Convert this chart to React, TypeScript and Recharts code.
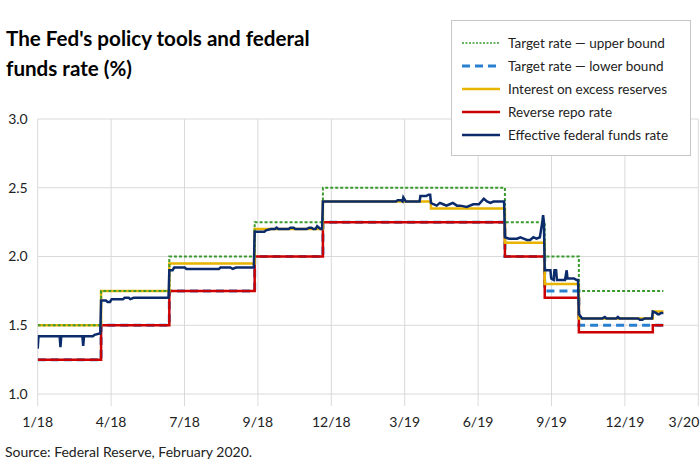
import React from "react";
import { LineChart, Line, XAxis, YAxis, CartesianGrid } from "recharts";

type Pt = [string, number];

const xTickLabels = ["1/18", "4/18", "7/18", "9/18", "12/18", "3/19", "6/19", "9/19", "12/19", "3/20"];
const yTicks = [1.0, 1.5, 2.0, 2.5, 3.0];

// policy rates: value in force from each date on
const upperBound: Pt[] = [
  ["2018-01-03", 1.5], ["2018-03-22", 1.75], ["2018-06-14", 2.0], ["2018-09-27", 2.25],
  ["2018-12-20", 2.5], ["2019-08-01", 2.25], ["2019-09-19", 2.0], ["2019-10-31", 1.75],
  ["2020-02-12", 1.75],
];
const lowerBound: Pt[] = [
  ["2018-01-03", 1.25], ["2018-03-22", 1.5], ["2018-06-14", 1.75], ["2018-09-27", 2.0],
  ["2018-12-20", 2.25], ["2019-08-01", 2.0], ["2019-09-19", 1.75], ["2019-10-31", 1.5],
  ["2020-02-12", 1.5],
];
const ioer: Pt[] = [
  ["2018-01-03", 1.5], ["2018-03-22", 1.75], ["2018-06-14", 1.95], ["2018-09-27", 2.2],
  ["2018-12-20", 2.4], ["2019-05-02", 2.35], ["2019-08-01", 2.1], ["2019-09-19", 1.8],
  ["2019-10-31", 1.55], ["2020-01-30", 1.6], ["2020-02-12", 1.6],
];
const rrp: Pt[] = [
  ["2018-01-03", 1.25], ["2018-03-22", 1.5], ["2018-06-14", 1.75], ["2018-09-27", 2.0],
  ["2018-12-20", 2.25], ["2019-08-01", 2.0], ["2019-09-19", 1.7], ["2019-10-31", 1.45],
  ["2020-01-30", 1.5], ["2020-02-12", 1.5],
];
const effr: Pt[] = [
  ["2018-01-03", 1.33], ["2018-01-04", 1.42], ["2018-01-30", 1.42], ["2018-01-31", 1.34],
  ["2018-02-01", 1.42], ["2018-02-27", 1.42], ["2018-02-28", 1.35], ["2018-03-01", 1.42],
  ["2018-03-12", 1.42], ["2018-03-14", 1.43], ["2018-03-20", 1.44], ["2018-03-21", 1.44],
  ["2018-03-22", 1.68], ["2018-03-28", 1.68], ["2018-03-30", 1.67], ["2018-04-02", 1.67],
  ["2018-04-04", 1.69], ["2018-04-18", 1.69], ["2018-04-20", 1.7], ["2018-04-25", 1.7],
  ["2018-04-27", 1.69], ["2018-05-01", 1.7], ["2018-06-13", 1.7], ["2018-06-14", 1.9],
  ["2018-06-18", 1.9], ["2018-06-20", 1.92], ["2018-07-03", 1.92], ["2018-07-05", 1.91],
  ["2018-08-14", 1.91], ["2018-08-16", 1.92], ["2018-08-28", 1.92], ["2018-08-31", 1.91],
  ["2018-09-04", 1.92], ["2018-09-26", 1.92], ["2018-09-27", 2.18], ["2018-10-09", 2.18],
  ["2018-10-11", 2.19], ["2018-10-17", 2.2], ["2018-10-22", 2.2], ["2018-10-24", 2.21],
  ["2018-10-26", 2.2], ["2018-11-08", 2.2], ["2018-11-10", 2.21], ["2018-11-14", 2.21],
  ["2018-11-16", 2.2], ["2018-11-30", 2.2], ["2018-12-03", 2.21], ["2018-12-06", 2.21],
  ["2018-12-08", 2.2], ["2018-12-11", 2.2], ["2018-12-13", 2.22], ["2018-12-17", 2.2],
  ["2018-12-19", 2.2], ["2018-12-20", 2.4], ["2019-03-20", 2.4], ["2019-03-22", 2.41],
  ["2019-03-26", 2.41], ["2019-03-28", 2.4], ["2019-03-29", 2.43], ["2019-04-01", 2.4],
  ["2019-04-18", 2.4], ["2019-04-19", 2.44], ["2019-04-26", 2.44], ["2019-04-29", 2.45],
  ["2019-05-01", 2.45], ["2019-05-02", 2.39], ["2019-05-05", 2.38], ["2019-05-09", 2.37],
  ["2019-05-13", 2.39], ["2019-05-17", 2.38], ["2019-05-21", 2.37], ["2019-05-25", 2.38],
  ["2019-05-29", 2.39], ["2019-06-03", 2.37], ["2019-06-07", 2.37], ["2019-06-15", 2.36],
  ["2019-06-23", 2.38], ["2019-06-30", 2.38], ["2019-07-06", 2.42], ["2019-07-10", 2.4],
  ["2019-07-14", 2.39], ["2019-07-18", 2.4], ["2019-07-31", 2.4], ["2019-08-01", 2.14],
  ["2019-08-06", 2.13], ["2019-08-16", 2.13], ["2019-08-20", 2.14], ["2019-08-24", 2.13],
  ["2019-08-28", 2.12], ["2019-09-01", 2.12], ["2019-09-05", 2.14], ["2019-09-09", 2.13],
  ["2019-09-13", 2.14], ["2019-09-16", 2.25], ["2019-09-17", 2.3], ["2019-09-18", 2.25],
  ["2019-09-19", 1.9], ["2019-09-26", 1.9], ["2019-09-27", 1.84], ["2019-09-30", 1.83],
  ["2019-10-01", 1.9], ["2019-10-03", 1.9], ["2019-10-04", 1.83], ["2019-10-14", 1.83],
  ["2019-10-16", 1.9], ["2019-10-17", 1.84], ["2019-10-25", 1.84], ["2019-10-28", 1.83],
  ["2019-10-30", 1.83], ["2019-10-31", 1.58], ["2019-11-04", 1.55], ["2019-11-29", 1.55],
  ["2019-12-02", 1.56], ["2019-12-04", 1.55], ["2019-12-16", 1.55], ["2019-12-18", 1.56],
  ["2019-12-20", 1.55], ["2020-01-12", 1.55], ["2020-01-14", 1.54], ["2020-01-17", 1.54],
  ["2020-01-20", 1.55], ["2020-01-29", 1.55], ["2020-01-30", 1.6], ["2020-02-03", 1.59],
  ["2020-02-05", 1.58], ["2020-02-07", 1.58], ["2020-02-09", 1.59], ["2020-02-12", 1.59],
];

const DAY0 = Date.UTC(2018, 0, 1);
const toDay = (s: string) => (Date.parse(s) - DAY0) / 86400000;
const toRows = (pts: Pt[]) => pts.map(([d, v]) => ({ day: toDay(d), v }));

// x axis runs in days since 1 Jan 2018
const X0 = 2;
const X1 = 815;
const xTicks = xTickLabels.map((_, i) => X0 + (i * (X1 - X0)) / (xTickLabels.length - 1));

const FONT = "Lato, 'Open Sans', sans-serif";

const series = [
  { key: "upper", name: "Target rate \u2014 upper bound", pts: upperBound, color: "#3a9a2e", width: 2, dash: "3 2", legendDash: "2 1.5", legendWidth: 1.5, type: "stepAfter" },
  { key: "lower", name: "Target rate \u2014 lower bound", pts: lowerBound, color: "#2a80d0", width: 3, dash: "8 5", legendDash: "8 5", legendWidth: 3, type: "stepAfter" },
  { key: "ioer", name: "Interest on excess reserves", pts: ioer, color: "#e8b400", width: 2.5, dash: undefined, legendDash: undefined, legendWidth: 2.5, type: "stepAfter" },
  { key: "rrp", name: "Reverse repo rate", pts: rrp, color: "#cc0000", width: 2.5, dash: undefined, legendDash: undefined, legendWidth: 2.5, type: "stepAfter" },
  { key: "effr", name: "Effective federal funds rate", pts: effr, color: "#0c2b6b", width: 2.5, dash: undefined, legendDash: undefined, legendWidth: 2.5, type: "linear" },
];
const drawOrder = ["lower", "rrp", "ioer", "upper", "effr"];

const XTick = (props: any) => {
  const { x, y, index } = props;
  const last = index === xTickLabels.length - 1;
  return (
    <text
      x={last ? x + 1 : x}
      y={y + 19}
      textAnchor={last ? "end" : "middle"}
      fill="#222"
      fontSize={14}
      fontFamily={FONT}
    >
      {xTickLabels[index]}
    </text>
  );
};

export default function App() {
  return (
    <div style={{ position: "relative", width: 700, height: 476, background: "#fff", fontFamily: FONT, color: "#222" }}>
      <style>{"body{margin:0}"}</style>
      <LineChart width={700} height={476} margin={{ top: 119, right: 1.7, bottom: 42, left: 0 }}>
        <CartesianGrid stroke="#d9d9d9" strokeWidth={1} />
        <XAxis
          type="number"
          dataKey="day"
          domain={[X0, X1]}
          ticks={xTicks}
          interval={0}
          allowDataOverflow
          height={40}
          tickSize={12}
          tickLine={{ stroke: "#d9d9d9" }}
          axisLine={false}
          tick={<XTick />}
        />
        <YAxis
          type="number"
          domain={[1, 3]}
          ticks={yTicks}
          width={37.7}
          axisLine={false}
          tickLine={false}
          tickSize={8}
          tickMargin={2}
          tickFormatter={(v: number) => v.toFixed(1)}
          tick={{ fill: "#222", fontSize: 14, fontFamily: FONT }}
        />
        {drawOrder.map((k) => {
          const s = series.find((x) => x.key === k)!;
          return (
            <Line
              key={s.key}
              data={toRows(s.pts)}
              dataKey="v"
              type={s.type as any}
              stroke={s.color}
              strokeWidth={s.width}
              strokeDasharray={s.dash}
              dot={false}
              activeDot={false}
              isAnimationActive={false}
            />
          );
        })}
      </LineChart>

      <div style={{ position: "absolute", left: 6, top: 23, fontSize: 20.6, fontWeight: 700, lineHeight: "30px", color: "#000" }}>
        The Fed's policy tools and federal
        <br />
        funds rate (%)
      </div>

      <div
        style={{
          position: "absolute",
          left: 451,
          top: 20,
          width: 240,
          height: 136,
          boxSizing: "border-box",
          border: "1px solid #c6c6c6",
          background: "#fff",
        }}
      >
        {series.map((s, i) => (
          <div
            key={s.key}
            style={{ position: "absolute", left: 10, top: 11 + i * 23, height: 22, display: "flex", alignItems: "center", whiteSpace: "nowrap" }}
          >
            <svg width={38} height={6}>
              <line x1={0} x2={38} y1={3} y2={3} stroke={s.color} strokeWidth={s.legendWidth} strokeDasharray={s.legendDash} />
            </svg>
            <span style={{ marginLeft: 8, fontSize: 13.5 }}>{s.name}</span>
          </div>
        ))}
      </div>

      <div style={{ position: "absolute", left: 5, top: 444, fontSize: 14, lineHeight: "16px" }}>
        Source: Federal Reserve, February 2020.
      </div>
    </div>
  );
}
